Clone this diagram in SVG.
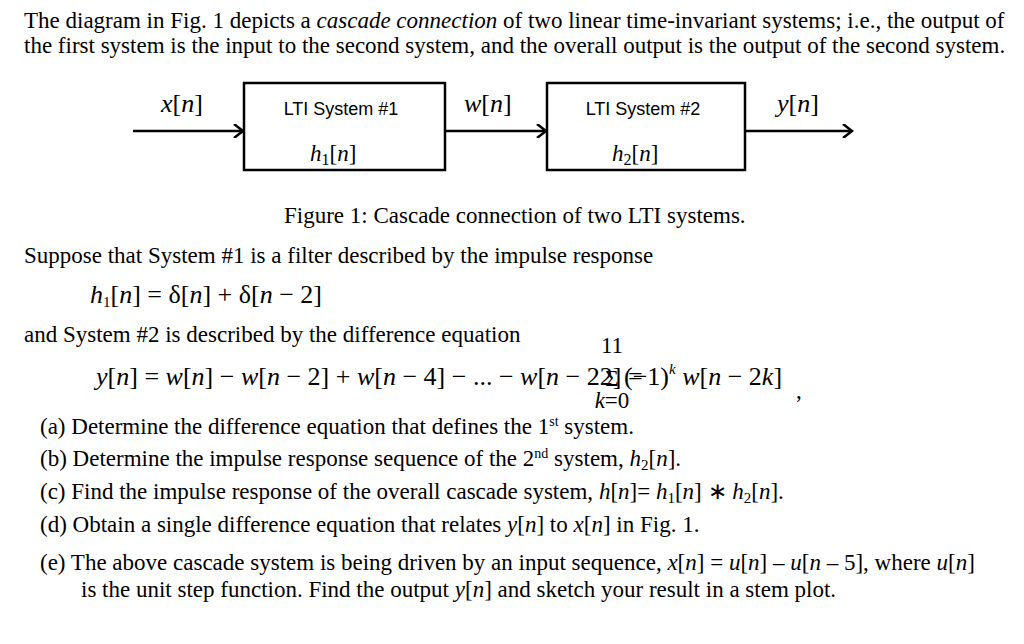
<svg xmlns="http://www.w3.org/2000/svg" width="1024" height="644" viewBox="0 0 1024 644">
<style>
text{font-family:"Liberation Serif","Times New Roman",serif;font-size:23px;fill:#000}
.i{font-style:italic}
.s{font-family:"Liberation Sans",Arial,sans-serif;font-size:18px}
.m{font-size:26px}
.box{fill:#fff;stroke:#000;stroke-width:2.5}
.ln{stroke:#000;stroke-width:2.5;fill:none}
</style>
<defs><marker id="a" markerWidth="12" markerHeight="14" refX="10" refY="7" orient="auto" markerUnits="userSpaceOnUse"><path d="M1,0 L10,7 L1,14" fill="none" stroke="#000" stroke-width="2.5"/></marker></defs>
<rect width="1024" height="644" fill="#fff"/>
<text x="24" y="28">The diagram in Fig. 1 depicts a <tspan class="i">cascade connection</tspan> of two linear time-invariant systems; i.e., the output of</text>
<text x="24" y="53">the first system is the input to the second system, and the overall output is the output of the second system.</text>
<g id="connectors">
<line class="ln" x1="133" y1="131" x2="243" y2="131" marker-end="url(#a)"/>
<line class="ln" x1="445" y1="131" x2="546" y2="131" marker-end="url(#a)"/>
<line class="ln" x1="745" y1="131" x2="852" y2="131" marker-end="url(#a)"/>
<text x="161" y="112" class="m"><tspan class="i">x</tspan>[<tspan class="i">n</tspan>]</text>
<text x="464" y="112" class="m"><tspan class="i">w</tspan>[<tspan class="i">n</tspan>]</text>
<text x="777" y="112" class="m"><tspan class="i">y</tspan>[<tspan class="i">n</tspan>]</text>
</g>
<g id="sys1">
<rect class="box" x="244" y="83" width="201" height="87"/>
<text x="341" y="115" class="s" text-anchor="middle">LTI System #1</text>
<text x="310" y="161" font-size="30"><tspan class="i">h</tspan><tspan font-size="16" dy="4">1</tspan><tspan dy="-4">[</tspan><tspan class="i">n</tspan>]</text>
</g>
<g id="sys2">
<rect class="box" x="547" y="83" width="198" height="87"/>
<text x="643" y="115" class="s" text-anchor="middle">LTI System #2</text>
<text x="612" y="161" font-size="30"><tspan class="i">h</tspan><tspan font-size="16" dy="4">2</tspan><tspan dy="-4">[</tspan><tspan class="i">n</tspan>]</text>
</g>
<text x="284" y="223">Figure 1: Cascade connection of two LTI systems.</text>
<text x="24" y="263">Suppose that System #1 is a filter described by the impulse response</text>
<text x="90" y="303" class="m"><tspan class="i">h</tspan><tspan font-size="15" dy="4">1</tspan><tspan dy="-4">[</tspan><tspan class="i">n</tspan>] = δ[<tspan class="i">n</tspan>] + δ[<tspan class="i">n</tspan> − 2]</text>
<text x="24" y="342">and System #2 is described by the difference equation</text>
<text x="96" y="385" class="m"><tspan class="i">y</tspan>[<tspan class="i">n</tspan>] = <tspan class="i">w</tspan>[<tspan class="i">n</tspan>] − <tspan class="i">w</tspan>[<tspan class="i">n</tspan> − 2] + <tspan class="i">w</tspan>[<tspan class="i">n</tspan> − 4] − ... − <tspan class="i">w</tspan>[<tspan class="i">n</tspan> − 22] =</text>
<text x="612" y="353" font-size="14" text-anchor="middle">11</text>
<text x="612" y="386" font-size="28" text-anchor="middle">Σ</text>
<text x="612" y="408" font-size="14" text-anchor="middle"><tspan class="i">k</tspan>=0</text>
<text x="624" y="385" class="m">(−1)<tspan font-size="15" dy="-11" class="i">k</tspan><tspan dy="11"> </tspan><tspan class="i">w</tspan>[<tspan class="i">n</tspan> − 2<tspan class="i">k</tspan>]</text>
<text x="796" y="398" font-size="15">,</text>
<text x="40" y="434">(a)  Determine the difference equation that defines the 1<tspan font-size="14" dy="-8">st</tspan><tspan dy="8"> system.</tspan></text>
<text x="40" y="466">(b)  Determine the impulse response sequence of the 2<tspan font-size="14" dy="-8">nd</tspan><tspan dy="8"> system, </tspan><tspan class="i">h</tspan><tspan font-size="15" dy="4">2</tspan><tspan dy="-4">[</tspan><tspan class="i">n</tspan>].</text>
<text x="40" y="499">(c)  Find the impulse response of the overall cascade system, <tspan class="i">h</tspan>[<tspan class="i">n</tspan>]= <tspan class="i">h</tspan><tspan font-size="15" dy="4">1</tspan><tspan dy="-4">[</tspan><tspan class="i">n</tspan>] ∗ <tspan class="i">h</tspan><tspan font-size="15" dy="4">2</tspan><tspan dy="-4">[</tspan><tspan class="i">n</tspan>].</text>
<text x="40" y="532">(d)  Obtain a single difference equation that relates <tspan class="i">y</tspan>[<tspan class="i">n</tspan>] to <tspan class="i">x</tspan>[<tspan class="i">n</tspan>] in Fig. 1.</text>
<text x="40" y="570">(e)  The above cascade system is being driven by an input sequence, <tspan class="i">x</tspan>[<tspan class="i">n</tspan>] = <tspan class="i">u</tspan>[<tspan class="i">n</tspan>] – <tspan class="i">u</tspan>[<tspan class="i">n</tspan> – 5], where <tspan class="i">u</tspan>[<tspan class="i">n</tspan>]</text>
<text x="81" y="597">is the unit step function. Find the output <tspan class="i">y</tspan>[<tspan class="i">n</tspan>] and sketch your result in a stem plot.</text>
</svg>
